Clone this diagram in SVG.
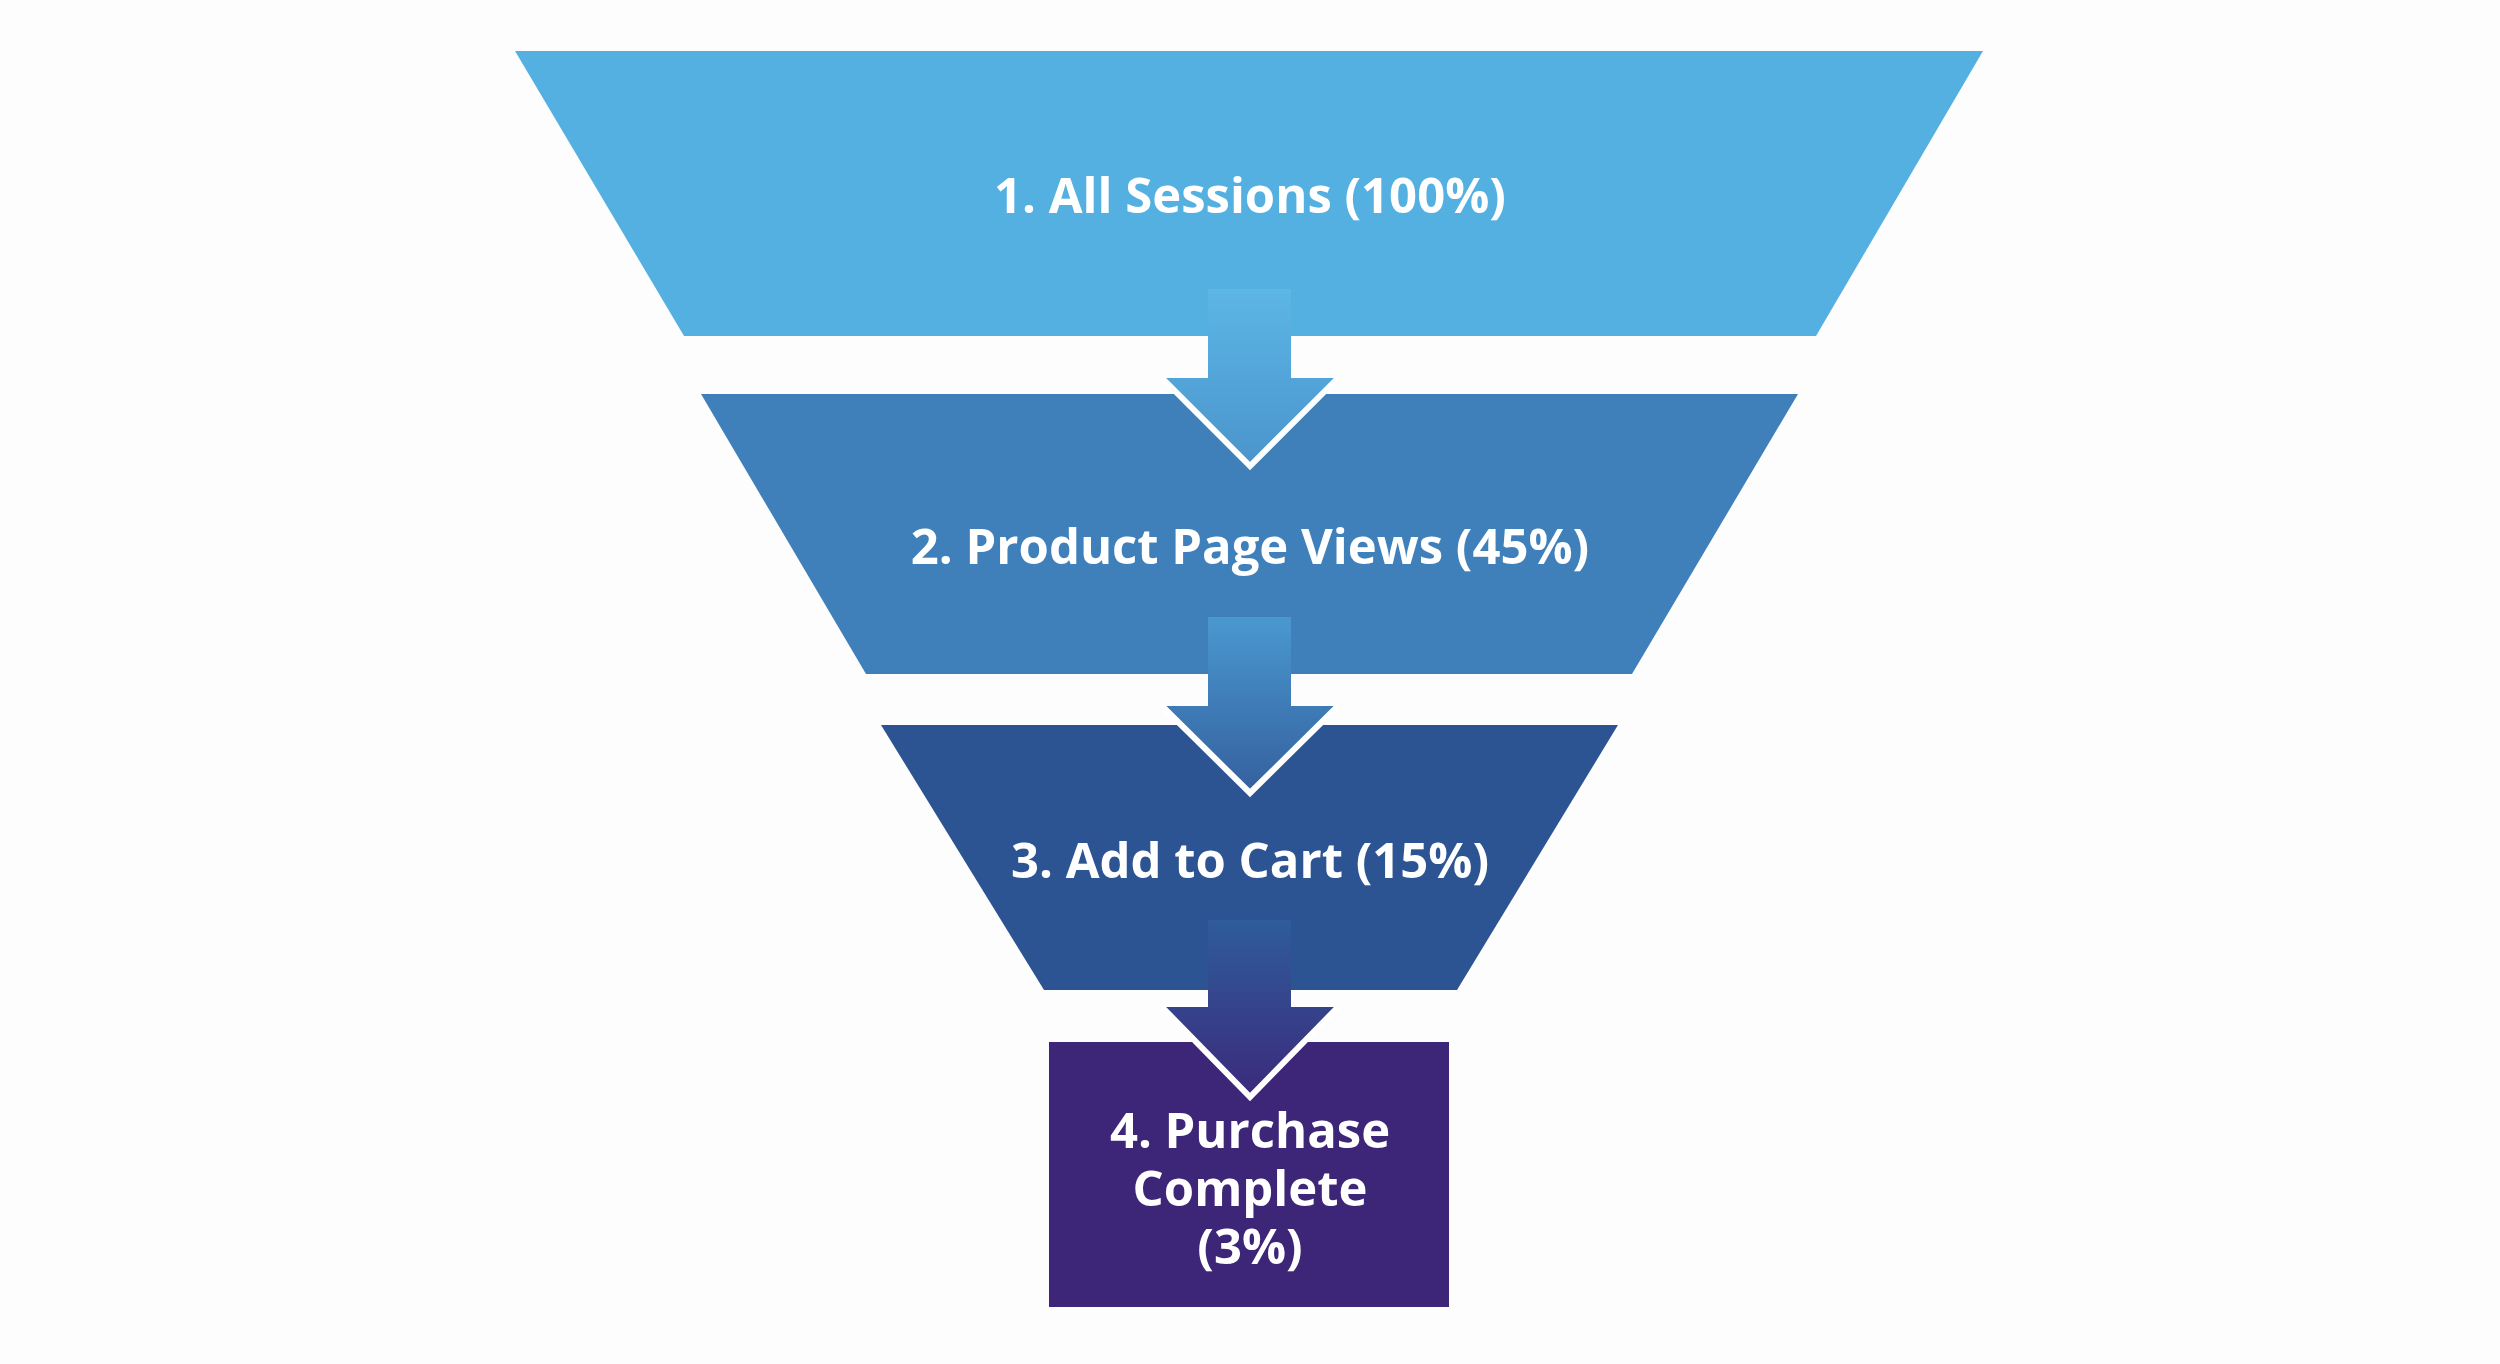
<svg xmlns="http://www.w3.org/2000/svg" width="2500" height="1364" viewBox="0 0 2500 1364">
<defs>
<style>
.t{font-family:"Open Sans","Liberation Sans",sans-serif;font-weight:700;font-size:49px;fill:#fff;text-anchor:middle}
.v{fill:none;stroke:#fff;stroke-width:6;stroke-linejoin:miter}
</style>
<linearGradient id="g1" x1="0" y1="0" x2="0" y2="1"><stop offset="0" stop-color="#5cb6e6"/><stop offset="1" stop-color="#4a94cc"/></linearGradient>
<linearGradient id="g2" x1="0" y1="0" x2="0" y2="1"><stop offset="0" stop-color="#4a98d0"/><stop offset="1" stop-color="#34609e"/></linearGradient>
<linearGradient id="g3" x1="0" y1="0" x2="0" y2="1"><stop offset="0" stop-color="#2f5c9a"/><stop offset="1" stop-color="#3b2a7c"/></linearGradient>
</defs>
<rect width="2500" height="1364" fill="#fdfdfd"/>
<g id="stage1"><polygon points="515,51 1983,51 1816,336 684,336" fill="#55b0e2"/><text class="t" x="1250" y="213">1. All Sessions (100%)</text></g>
<g id="stage2"><polygon points="701,394 1798,394 1632,674 866,674" fill="#3f80ba"/><text class="t" x="1250" y="564">2. Product Page Views (45%)</text></g>
<g id="stage3"><polygon points="881,725 1618,725 1457,990 1044,990" fill="#2c5492"/><text class="t" x="1250" y="878">3. Add to Cart (15%)</text></g>
<g id="stage4"><rect x="1049" y="1042" width="400" height="265" fill="#3d2577"/>
<text class="t" x="1250" y="1148">4. Purchase</text><text class="t" x="1250" y="1206">Complete</text><text class="t" x="1250" y="1264">(3%)</text></g>
<g id="connectors">
<polygon points="1208,289 1291,289 1291,378 1338,378 1250,466 1162,378 1208,378" fill="url(#g1)"/>
<polyline class="v" points="1162,378 1250,466 1338,378"/>
<polygon points="1208,617 1291,617 1291,706 1338,706 1250,793 1162,706 1208,706" fill="url(#g2)"/>
<polyline class="v" points="1162,706 1250,793 1338,706"/>
<polygon points="1208,920 1291,920 1291,1007 1338,1007 1250,1097 1162,1007 1208,1007" fill="url(#g3)"/>
<polyline class="v" points="1162,1007 1250,1097 1338,1007"/>
</g>
</svg>
